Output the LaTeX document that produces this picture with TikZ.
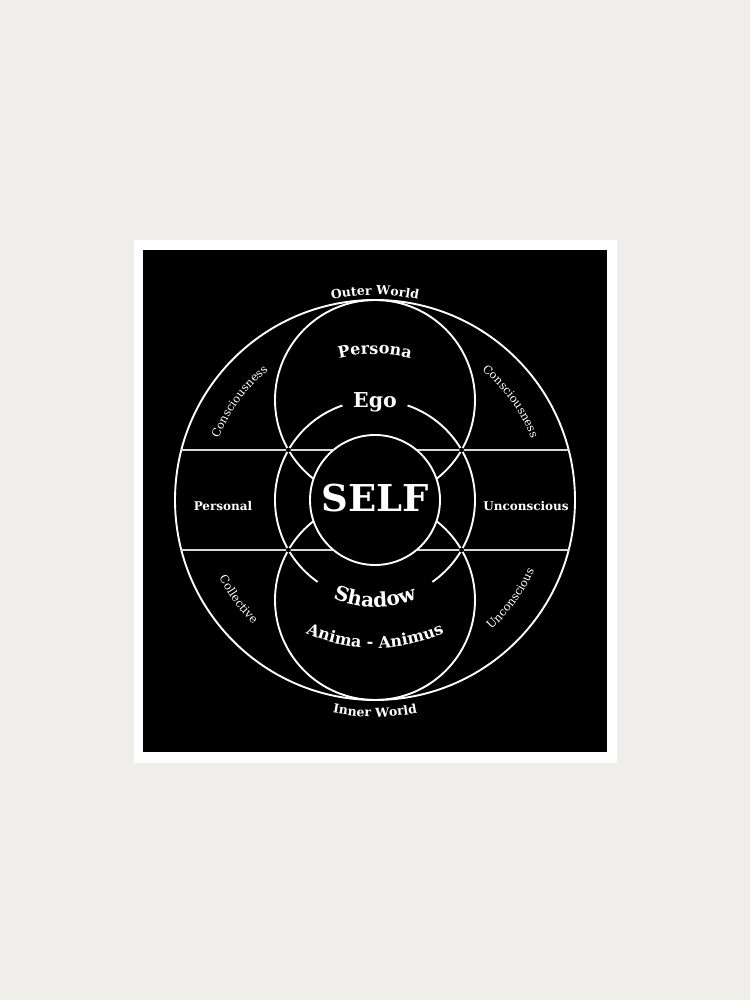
\documentclass[tikz,border=0pt]{standalone}
\usepackage{fontspec}
\setmainfont{DejaVu Serif}
\usetikzlibrary{decorations.text}
\definecolor{bgpage}{RGB}{239,238,234}
\definecolor{hline}{RGB}{215,215,215}
\begin{document}
\begin{tikzpicture}[x=1pt,y=1pt,
  ring/.style={draw=white, line width=1.9pt},
  band/.style={draw=hline, line width=1.6pt},
  lab/.style={text=white, inner sep=0pt, anchor=base},
  arctext/.style={decorate, decoration={text along path, text align=center, text={#1}}}
  ]
\useasboundingbox (0,0) rectangle (750,1000);
\fill[bgpage] (0,0) rectangle (750,1000);
\fill[white] (134,237) rectangle (617,760);
\fill[black] (143,248) rectangle (607,750);
\coordinate (C) at (375,500);
\coordinate (Up) at (375,600);
\coordinate (Lo) at (375,400);
% circles
\draw[ring] (C) circle[radius=200];
\draw[ring] (Up) circle[radius=100];
\draw[ring] (Lo) circle[radius=100];
\draw[ring] (C) ++(109:100) arc[start angle=109, end angle=235, radius=100];
\draw[ring] (C) ++(-55:100) arc[start angle=-55, end angle=71, radius=100];
% horizontal bands
\coordinate (h1l) at (181.4,550);
\coordinate (h1r) at (568.6,550);
\coordinate (h2l) at (181.4,450);
\coordinate (h2r) at (568.6,450);
\draw[band] (h1l) -- (h1r);
\draw[band] (h2l) -- (h2r);
% self circle
\draw[ring, fill=black] (C) circle[radius=65];
% crossing dots
\coordinate (x1) at (288.4,550);
\coordinate (x2) at (461.6,550);
\coordinate (x3) at (288.4,450);
\coordinate (x4) at (461.6,450);
\foreach \p in {x1,x2,x3,x4} \fill[black] (\p) circle[radius=2.4];
% straight labels
\node[lab, font=\bfseries\fontsize{20.5}{24}\selectfont] (ego) at (375,592) {Ego};
\node[lab, font=\bfseries\fontsize{37}{40}\selectfont] (self) at (375,488) {SELF};
\node[lab, font=\bfseries\fontsize{12}{14}\selectfont] (personal) at (223,489) {Personal};
\node[lab, font=\bfseries\fontsize{12}{14}\selectfont] (uncons) at (526,489) {Unconscious};
% curved labels
\path[arctext={|\color{white}\bfseries\fontsize{12.5}{14}\selectfont|Outer World}]
  (C) ++(130:205) arc[start angle=130, end angle=50, radius=205];
\path[arctext={|\color{white}\bfseries\fontsize{16}{18}\selectfont|Persona}]
  (C) ++(140:146) arc[start angle=140, end angle=40, radius=146];
\path[arctext={|\color{white}\bfseries\fontsize{20}{24}\selectfont|Shadow}]
  (C) ++(200:107) arc[start angle=200, end angle=340, radius=107];
\path[arctext={|\color{white}\bfseries\fontsize{16}{18}\selectfont|Anima - Animus}]
  (375,520) ++(215:168) arc[start angle=215, end angle=325, radius=168];
\path[arctext={|\color{white}\bfseries\fontsize{12.5}{14}\selectfont|Inner World}]
  (C) ++(230:217) arc[start angle=230, end angle=310, radius=217];
\path[arctext={|\color{white}\fontsize{11.5}{13}\selectfont|Consciousness}]
  (C) ++(179:168) arc[start angle=179, end angle=109, radius=168];
\path[arctext={|\color{white}\fontsize{11.5}{13}\selectfont|Consciousness}]
  (C) ++(71:168) arc[start angle=71, end angle=1, radius=168];
\path[arctext={|\color{white}\fontsize{11.5}{13}\selectfont|Collective}]
  (C) ++(181:174) arc[start angle=181, end angle=251, radius=174];
\path[arctext={|\color{white}\fontsize{11.5}{13}\selectfont|Unconscious}]
  (C) ++(289:174) arc[start angle=289, end angle=359, radius=174];
\end{tikzpicture}
\end{document}
